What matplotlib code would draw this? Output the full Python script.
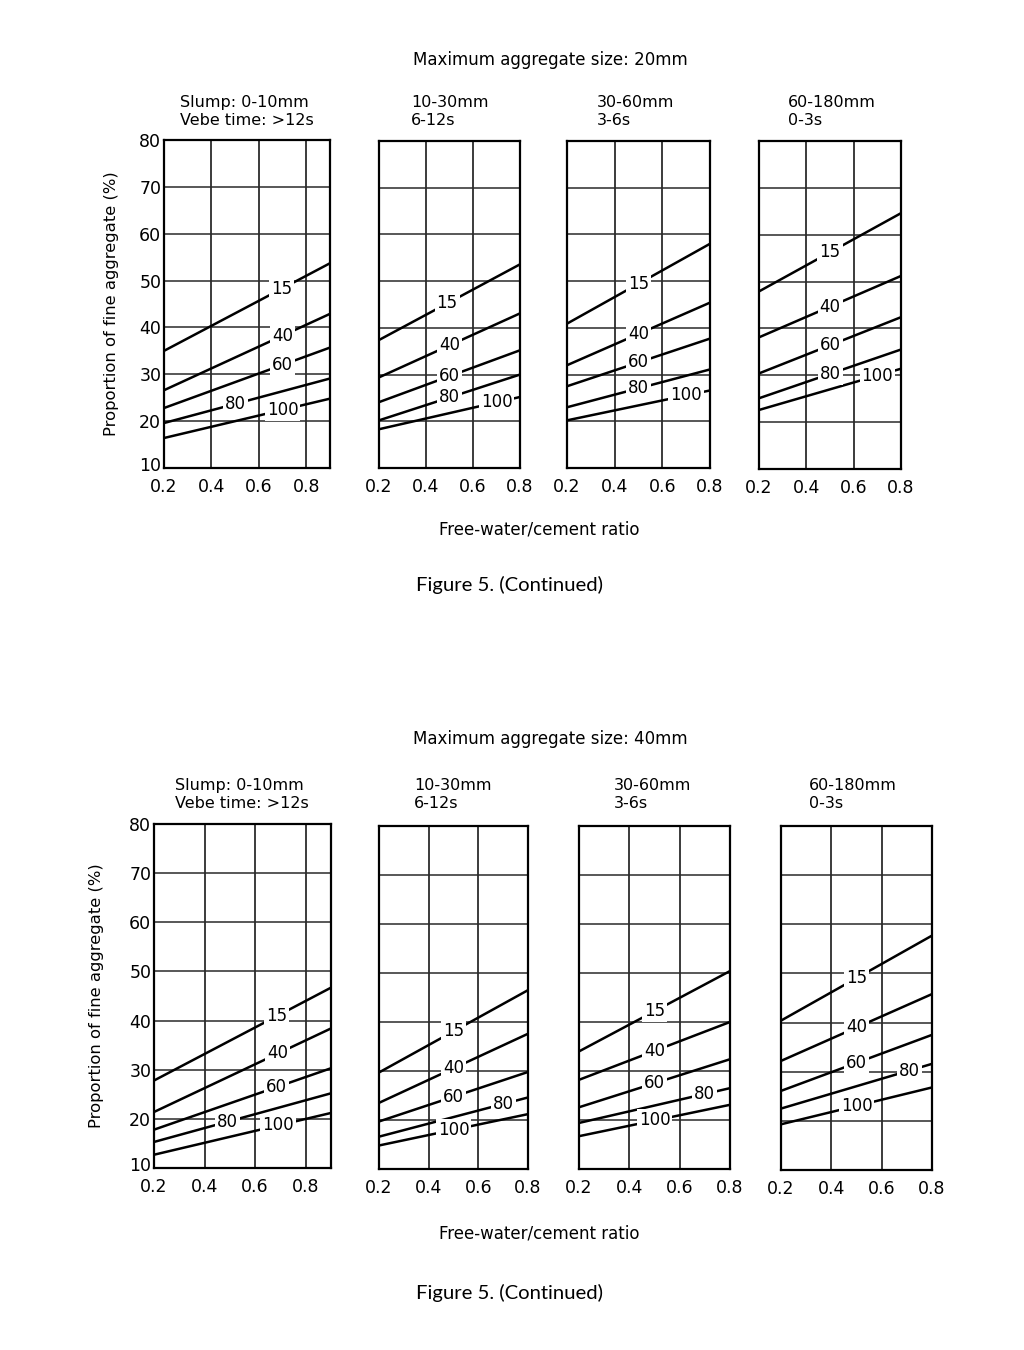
import matplotlib.pyplot as plt
from matplotlib.transforms import ScaledTranslation

# Fine aggregate proportion (%), at w/c = 0.2 and at the right edge
gradings = ["15", "40", "60", "80", "100"]
slump_classes = ["Slump: 0-10mm\nVebe time: >12s", "10-30mm\n6-12s", "30-60mm\n3-6s", "60-180mm\n0-3s"]
x_right = [0.9, 0.8, 0.8, 0.8]
xticks = [0.2, 0.4, 0.6, 0.8]
yticks = [10, 20, 30, 40, 50, 60, 70, 80]

# Maximum aggregate size 20 mm
agg20_start = [
    [35.0, 26.6, 22.8, 19.6, 16.4],
    [37.4, 29.4, 24.1, 20.2, 18.3],
    [40.9, 32.0, 27.5, 23.0, 20.2],
    [47.9, 38.1, 30.4, 25.1, 22.6],
]
agg20_end = [
    [53.7, 42.9, 35.7, 29.1, 24.8],
    [53.6, 43.1, 35.2, 30.0, 25.2],
    [58.0, 45.4, 37.7, 31.1, 26.6],
    [64.6, 51.2, 42.4, 35.5, 31.4],
]
agg20_label_x = [
    [0.695, 0.70, 0.70, 0.50, 0.70],
    [0.49, 0.50, 0.50, 0.50, 0.70],
    [0.50, 0.50, 0.50, 0.50, 0.70],
    [0.50, 0.50, 0.50, 0.50, 0.70],
]

# Maximum aggregate size 40 mm
agg40_start = [
    [27.8, 21.4, 17.8, 15.3, 12.7],
    [29.7, 23.5, 19.7, 16.6, 14.8],
    [34.0, 28.2, 22.6, 19.4, 16.7],
    [40.4, 32.2, 26.1, 22.5, 19.3],
]
agg40_end = [
    [46.7, 38.4, 30.3, 25.2, 21.2],
    [46.5, 37.6, 29.8, 24.6, 21.2],
    [50.4, 40.0, 32.4, 26.5, 23.1],
    [57.7, 45.8, 37.5, 31.6, 26.8],
]
agg40_label_x = [
    [0.685, 0.69, 0.685, 0.49, 0.69],
    [0.50, 0.50, 0.50, 0.70, 0.50],
    [0.50, 0.50, 0.50, 0.70, 0.50],
    [0.50, 0.50, 0.50, 0.71, 0.50],
]

W, H = 1024, 1350
fig = plt.figure(figsize=(W / 100, H / 100), dpi=100)
fig.patch.set_facecolor("white")
font = "DejaVu Sans"


def px_axes(x0, y0, x1, y1):
    return fig.add_axes([x0 / W, 1 - y1 / H, (x1 - x0) / W, (y1 - y0) / H])


def draw_block(boxes, starts, ends, label_xs, title, title_y, title_offsets, sub_y,
               ylab_x, xlab_y, cap_y):
    for k, (x0, y0, x1, y1) in enumerate(boxes):
        ax = px_axes(x0, y0, x1, y1)
        xr = x_right[k]
        ax.set_xlim(0.2, xr)
        ax.set_ylim(10, 80)
        for gx in [0.4, 0.6, 0.8]:
            if gx < xr - 1e-6:
                ax.axvline(gx, color="#1a1a1a", lw=1.2, zorder=1)
        for gy in yticks[1:-1]:
            ax.axhline(gy, color="#2a2a2a", lw=1.1, zorder=1)
        for i, g in enumerate(gradings):
            y_a, y_b = starts[k][i], ends[k][i]
            ax.plot([0.2, xr], [y_a, y_b], color="black", lw=1.8, zorder=2,
                    solid_capstyle="butt")
            lx = label_xs[k][i]
            ly = y_a + (y_b - y_a) * (lx - 0.2) / (xr - 0.2)
            ax.text(lx, ly, g, ha="center", va="center", fontsize=12, family=font,
                    zorder=3, bbox=dict(boxstyle="square,pad=0.12", fc="white", ec="none"))
        for s in ax.spines.values():
            s.set_linewidth(1.6)
            s.set_color("black")
        ax.set_xticks(xticks)
        ax.set_xticklabels([f"{v:.1f}" for v in xticks], fontsize=12.5, family=font)
        ax.tick_params(axis="x", length=0, pad=7)
        if k == 0:
            ax.set_yticks(yticks)
            ax.set_yticklabels([str(v) for v in yticks], fontsize=12.5, family=font)
            ax.tick_params(axis="y", length=0, pad=2)
            # lowest label sits just above the corner, as in the original
            low = ax.get_yticklabels()[0]
            low.set_transform(low.get_transform() + ScaledTranslation(0, 4 / 100, fig.dpi_scale_trans))
        else:
            ax.set_yticks([])
        fig.text((x0 + title_offsets[k]) / W, 1 - sub_y / H, slump_classes[k],
                 ha="left", va="bottom", fontsize=11.5, family=font, linespacing=1.25)
    fig.text(550 / W, 1 - title_y / H, title, ha="center", va="center",
             fontsize=12, family=font)
    mid_y = (boxes[0][1] + boxes[0][3]) / 2
    fig.text(ylab_x / W, 1 - mid_y / H, "Proportion of fine aggregate (%)", rotation=90,
             ha="center", va="center", fontsize=11.8, family=font)
    fig.text(539 / W, 1 - xlab_y / H, "Free-water/cement ratio", ha="center",
             va="center", fontsize=12, family=font)
    fig.text(509 / W, 1 - cap_y / H, "Figure 5. (Continued)", ha="center", va="center",
             fontsize=14.6, family="Lato")


boxes20 = [(164, 140, 330, 468), (379, 141, 520, 468), (567, 141, 710, 468), (759, 141, 901, 469)]
draw_block(boxes20, agg20_start, agg20_end, agg20_label_x,
           "Maximum aggregate size: 20mm", 60, [16, 32, 30, 29], 128,
           112, 530, 585)

boxes40 = [(154, 824, 331, 1168), (379, 826, 528, 1169), (579, 826, 730, 1169), (781, 826, 932, 1170)]
draw_block(boxes40, agg40_start, agg40_end, agg40_label_x,
           "Maximum aggregate size: 40mm", 739, [21, 35, 35, 28], 811,
           97, 1233, 1293)

fig.savefig("out.png", dpi=100, facecolor="white")
